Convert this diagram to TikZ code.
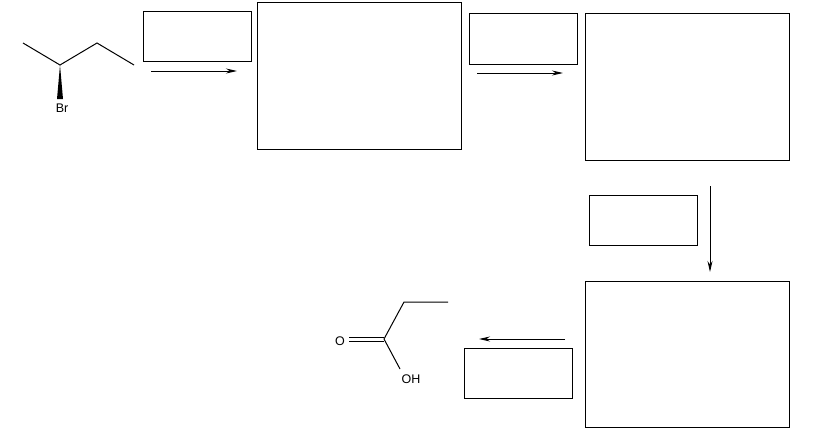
\documentclass[tikz,border=0pt]{standalone}
\usepackage{fontspec}
\setmainfont{Liberation Sans}
\usetikzlibrary{arrows.meta}
\begin{document}
\begin{tikzpicture}[x=1pt,y=-1pt,line width=1pt,
  box/.style={draw,line width=1pt},
  rxn/.style={-{Stealth[length=11pt,width=5pt]}},
  atom/.style={font=\fontsize{12.5}{12.5}\selectfont,inner sep=1pt}]
\useasboundingbox (0,0) rectangle (835,439);
% starting material
\coordinate (a1) at (23,43);
\coordinate (a2) at (60,65);
\coordinate (a3) at (97,43);
\coordinate (a4) at (134,65);
\draw (a1)--(a2)--(a3)--(a4);
\fill (a2) -- (57,99) -- (63,99) -- cycle;
\node[atom] (br) at (62,108) {Br};
% boxes
\draw[box] (143,11) rectangle (251,61);
\draw[box] (257,2) rectangle (461,149);
\draw[box] (469,13) rectangle (577,64);
\draw[box] (585,13) rectangle (789,160);
\draw[box] (589,195) rectangle (697,245);
\draw[box] (585,281) rectangle (789,427);
\draw[box] (464,348) rectangle (572,398);
% arrows
\coordinate (r1a) at (151,71); \coordinate (r1b) at (237,71);
\coordinate (r2a) at (477,73); \coordinate (r2b) at (563,73);
\coordinate (r3a) at (710,186); \coordinate (r3b) at (710,272);
\coordinate (r4a) at (565,339); \coordinate (r4b) at (479,339);
\draw[rxn] (r1a)--(r1b);
\draw[rxn] (r2a)--(r2b);
\draw[rxn] (r3a)--(r3b);
\draw[rxn] (r4a)--(r4b);
% product
\coordinate (c1) at (384,339);
\coordinate (c2) at (404,302);
\coordinate (c3) at (448,302);
\node[atom] (o) at (340,341) {O};
\node[atom] (oh) at (411,379) {OH};
\draw (c1)--(c2)--(c3);
\draw (349,337.5)--(384,337.5);
\draw (349,341.5)--(384,341.5);
\draw (c1)--(400,369);
\end{tikzpicture}
\end{document}
